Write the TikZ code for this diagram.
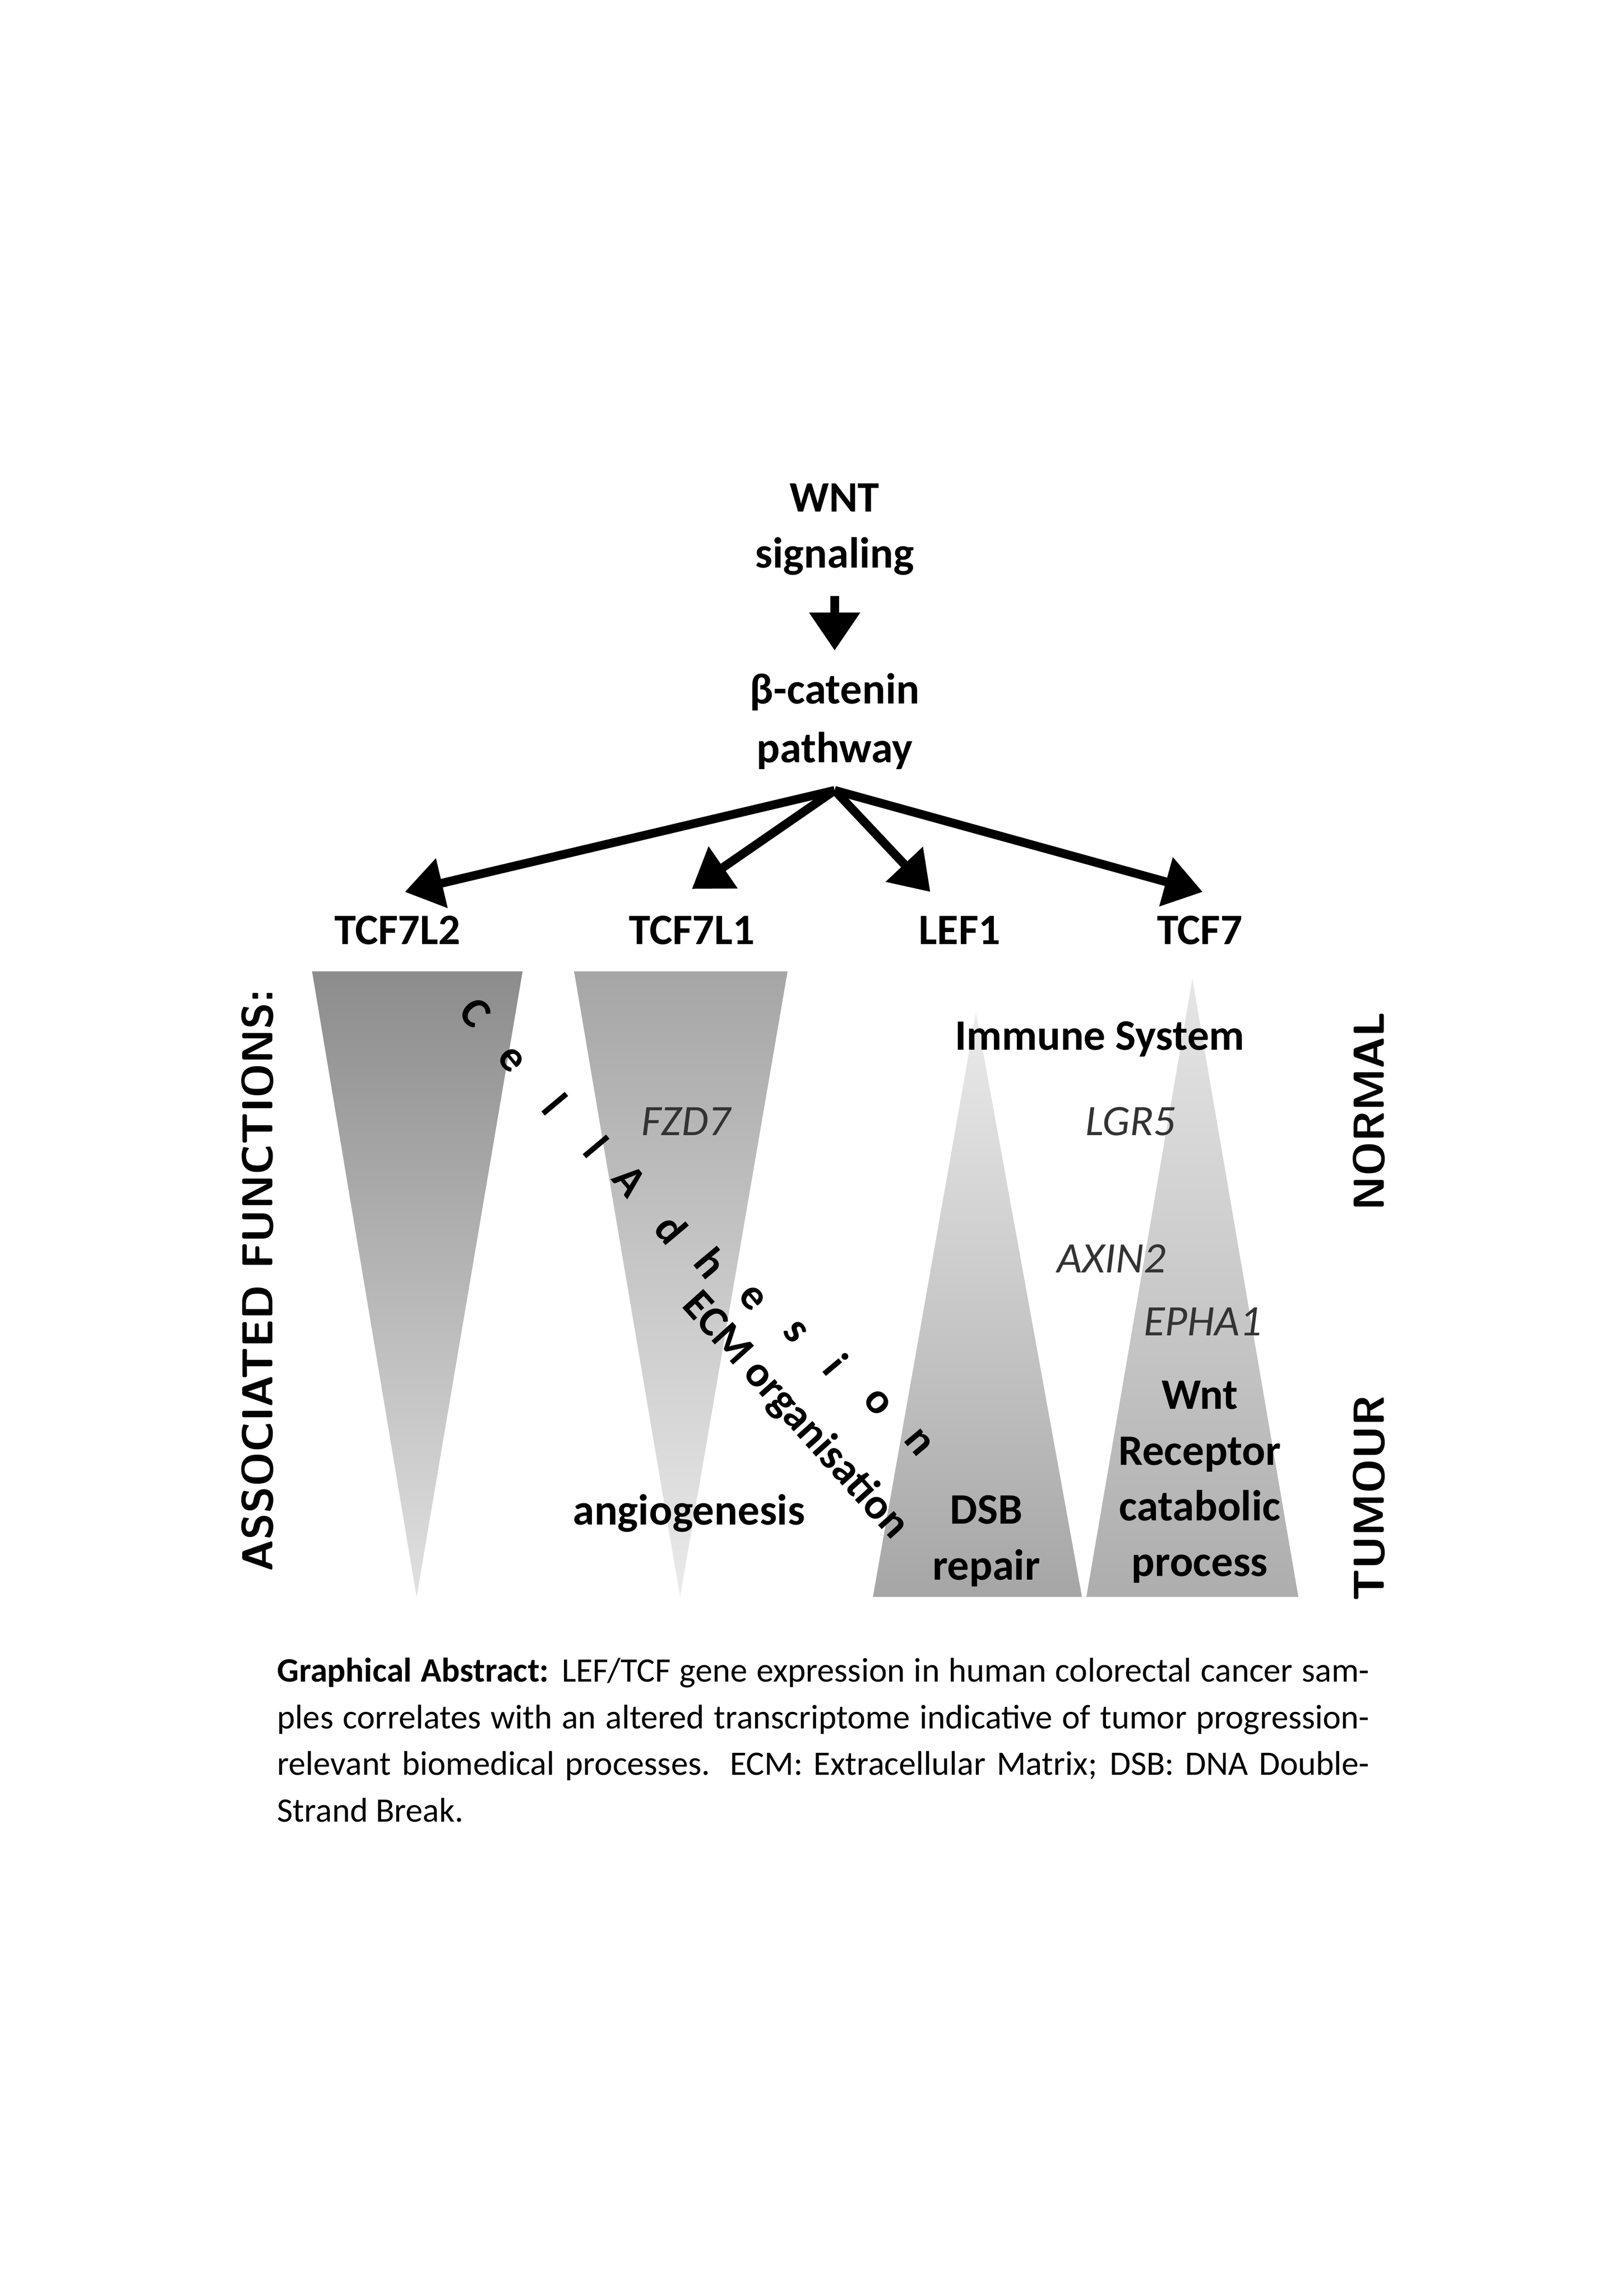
\documentclass[tikz,border=0pt]{standalone}
\usepackage{fontspec}
\usetikzlibrary{arrows.meta}
\setmainfont{Carlito}
\begin{document}
\begin{tikzpicture}[x=0.01904cm,y=-0.01904cm,
  lbl/.style={font=\fontsize{16}{19}\selectfont\bfseries,inner sep=0pt},
  gene/.style={font=\fontsize{16}{19}\selectfont\itshape,text=black!80,inner sep=0pt},
  arr/.style={line width=3.2pt,-{Triangle[length=14pt,width=18pt]}},
  side/.style={font=\fontsize{16}{19}\selectfont\sffamily\bfseries,rotate=90,inner sep=0pt},
  ltr/.style={font=\fontsize{16}{19}\selectfont\bfseries,rotate=-50,inner sep=0pt}]
\useasboundingbox (0,0) rectangle (1103,1560);
% triangles
\shade[top color=black!45,middle color=black!55,bottom color=black!12] (212,660) -- (355,660) -- (283,1085) -- cycle;
\shade[top color=black!35,middle color=black!50,bottom color=black!8] (390,660) -- (535,660) -- (462,1085) -- cycle;
\shade[top color=black!8,middle color=black!45,bottom color=black!35] (663,688) -- (735,1085) -- (593,1085) -- cycle;
\shade[top color=black!10,middle color=black!40,bottom color=black!32] (810,665) -- (882,1085) -- (738,1085) -- cycle;
% top
\node[lbl] (wnt) at (567,338) {WNT};
\node[lbl] (sig) at (567,378) {signaling};
\node[lbl] (cat) at (567,470) {β-catenin};
\node[lbl] (pw) at (567,510) {pathway};
\coordinate (hub) at (567,537);
\draw[arr] (567,405) -- (567,442);
\node[lbl] (t2) at (270,632) {TCF7L2};
\node[lbl] (t1) at (470,632) {TCF7L1};
\node[lbl] (lef) at (652,632) {LEF1};
\node[lbl] (t7) at (815,632) {TCF7};
\draw[arr] (hub) -- (275,606);
\draw[arr] (hub) -- (470,604);
\draw[arr] (hub) -- (632,606);
\draw[arr] (hub) -- (817,606);
% side labels
\node[side] (af) at (175,870) {ASSOCIATED FUNCTIONS:};
\node[side] (nor) at (930,755) {NORMAL};
\node[side] (tum) at (930,1018) {TUMOUR};
% functions
\node[lbl] (imm) at (747,706) {Immune System};
\node[gene] (lgr) at (768,762) {LGR5};
\node[gene] (fzd) at (466,762) {FZD7};
\node[gene] (axn) at (755,855) {AXIN2};
\node[gene] (eph) at (817,898) {EPHA1};
\node[lbl,align=center,font=\fontsize{16}{19.5}\selectfont\bfseries] (wr) at (815,1007) {Wnt\\[1pt]Receptor\\[1pt]catabolic\\[1pt]process};
\node[lbl,align=center,font=\fontsize{16}{19.5}\selectfont\bfseries] (dsb) at (670,1047) {DSB\\[1pt]repair};
\node[lbl] (ang) at (468,1028) {angiogenesis};
\node[lbl,rotate=-48] (ecm) at (540,962) {ECM organisation};
% Cell Adhesion
\foreach \c/\x/\y in {C/323/688,e/347/720,l/377/750,l/405/779,A/428/802,d/456/835,h/483/858,e/511/882,s/540/905,i/568/927,o/596/953,n/624/980}
  \node[ltr] at (\x,\y) {\c};
% caption
\node[anchor=north west,text width=742*0.01904cm,align=justify,inner sep=0pt,
  font=\fontsize{12.6}{17.2}\selectfont] (cap) at (188,1126)
 {\textbf{Graphical Abstract:} LEF/TCF gene expression in human colorectal cancer samples correlates with an altered transcriptome indicative of tumor progression-relevant biomedical processes. ECM: Extracellular Matrix; DSB: DNA Double-Strand Break.};
\end{tikzpicture}
\end{document}
